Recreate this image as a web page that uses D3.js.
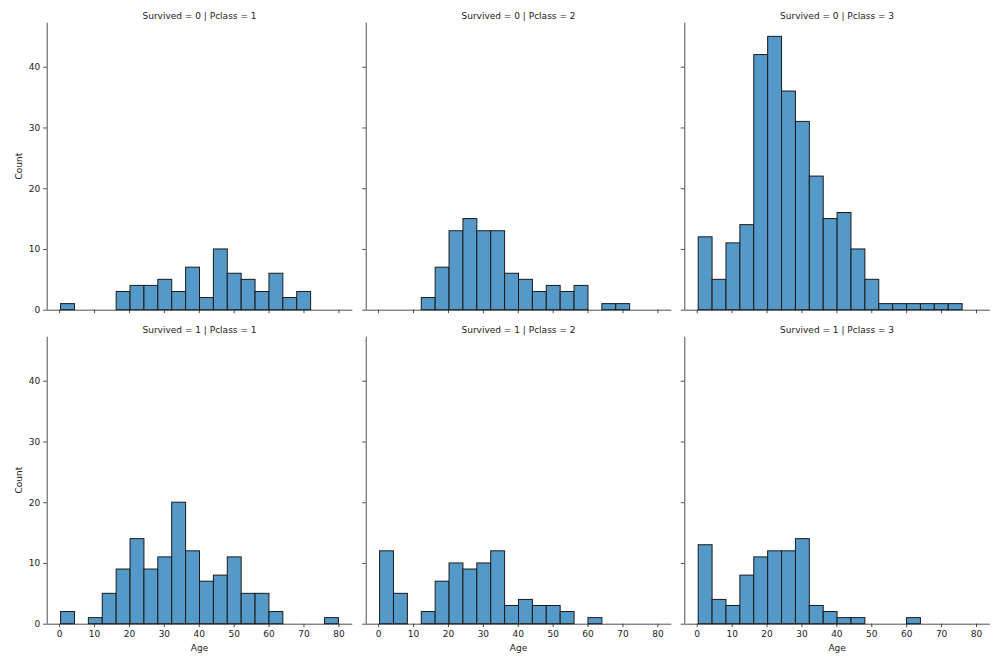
<!DOCTYPE html>
<html>
<head>
<meta charset="utf-8">
<script src="https://cdn.jsdelivr.net/npm/d3@7"></script>
<style>
  body { margin: 0; background: #fff; }
  text { font-family: "DejaVu Sans", sans-serif; font-size: 9px; fill: #222; }
</style>
</head>
<body>
<svg id="vis"></svg>
<script>
const WIDTH = 1002;
const HEIGHT = 661;

// Age histogram, 20 bins between min and max age
const AGE_MIN = 0.42;
const AGE_MAX = 80;
const N_BINS = 20;

const survived = [0, 1];
const pclass = [1, 2, 3];

// counts per bin, one array per facet
const s0_p1 = [1, 0, 0, 0, 3, 4, 4, 5, 3, 7, 2, 10, 6, 5, 3, 6, 2, 3, 0, 0];
const s0_p2 = [0, 0, 0, 2, 7, 13, 15, 13, 13, 6, 5, 3, 4, 3, 4, 0, 1, 1, 0, 0];
const s0_p3 = [12, 5, 11, 14, 42, 45, 36, 31, 22, 15, 16, 10, 5, 1, 1, 1, 1, 1, 1, 0];
const s1_p1 = [2, 0, 1, 5, 9, 14, 9, 11, 20, 12, 7, 8, 11, 5, 5, 2, 0, 0, 0, 1];
const s1_p2 = [12, 5, 0, 2, 7, 10, 9, 10, 12, 3, 4, 3, 3, 2, 0, 1, 0, 0, 0, 0];
const s1_p3 = [13, 4, 3, 8, 11, 12, 12, 14, 3, 2, 1, 1, 0, 0, 0, 1, 0, 0, 0, 0];

const xTicks = [0, 10, 20, 30, 40, 50, 60, 70, 80];
const yTicks = [0, 10, 20, 30, 40];

const facets = [
  [s0_p1, s0_p2, s0_p3],
  [s1_p1, s1_p2, s1_p3]
];

const colLeft = [46.7, 365.7, 684.3];
const rowTop = [22.7, 336.7];
const PW = 305.6;
const PH = 287;

const SVG = d3.select('#vis').attr("width", WIDTH).attr("height", HEIGHT);

const binW = (AGE_MAX - AGE_MIN) / N_BINS;
const pad = (AGE_MAX - AGE_MIN) * 0.05;
const yMax = d3.max(facets.flat(2)) * 1.05;

facets.forEach(function(row, r) {
  row.forEach(function(counts, c) {
    const left = colLeft[c], top = rowTop[r];
    const x_scale = d3.scaleLinear()
      .domain([AGE_MIN - pad, AGE_MAX + pad])
      .range([left, left + PW]);
    const y_scale = d3.scaleLinear()
      .domain([0, yMax])
      .range([top + PH, top]);

    const g = SVG.append("g");

    const bins = counts.map((n, i) => ({ x0: AGE_MIN + i * binW, x1: AGE_MIN + (i + 1) * binW, n: n }))
      .filter(d => d.n > 0);

    g.selectAll("rect")
      .data(bins)
      .enter()
      .append("rect")
      .attr("x", d => x_scale(d.x0))
      .attr("y", d => y_scale(d.n))
      .attr("width", d => x_scale(d.x1) - x_scale(d.x0))
      .attr("height", d => y_scale(0) - y_scale(d.n))
      .style("fill", "#5599c8")
      .style("stroke", "#1a1a1a")
      .style("stroke-width", 1);

    const xAxis = d3.axisBottom(x_scale).tickValues(xTicks).tickSize(3.5).tickPadding(3)
      .tickFormat(r === 1 ? d3.format("d") : () => "");
    const yAxis = d3.axisLeft(y_scale).tickValues(yTicks).tickSize(3.5).tickPadding(3)
      .tickFormat(c === 0 ? d3.format("d") : () => "");

    const gx = g.append("g").attr("transform", `translate(0, ${top + PH})`).call(xAxis);
    const gy = g.append("g").attr("transform", `translate(${left}, 0)`).call(yAxis);
    [gx, gy].forEach(a => {
      a.select(".domain").attr("stroke", "#222").attr("stroke-width", 0.8);
      a.selectAll(".tick line").attr("stroke", "#222").attr("stroke-width", 0.8);
      a.selectAll("text").style("font-size", "9px").attr("fill", "#222")
        .style("font-family", "DejaVu Sans, sans-serif");
    });
    // axis path with outer ticks removed
    gx.select(".domain").attr("d", `M${left},0.5H${left + PW}`);
    gy.select(".domain").attr("d", `M0.5,${top}V${top + PH}`);

    g.append("text")
      .attr("x", left + PW / 2)
      .attr("y", top - 4)
      .attr("text-anchor", "middle")
      .text(`Survived = ${survived[r]} | Pclass = ${pclass[c]}`);

    if (c === 0) {
      g.append("text")
        .attr("transform", `translate(${left - 24.5}, ${top + PH / 2}) rotate(-90)`)
        .attr("text-anchor", "middle")
        .text("Count");
    }
    if (r === 1) {
      g.append("text")
        .attr("x", left + PW / 2)
        .attr("y", top + PH + 27.5)
        .attr("text-anchor", "middle")
        .text("Age");
    }
  });
});
</script>
</body>
</html>
